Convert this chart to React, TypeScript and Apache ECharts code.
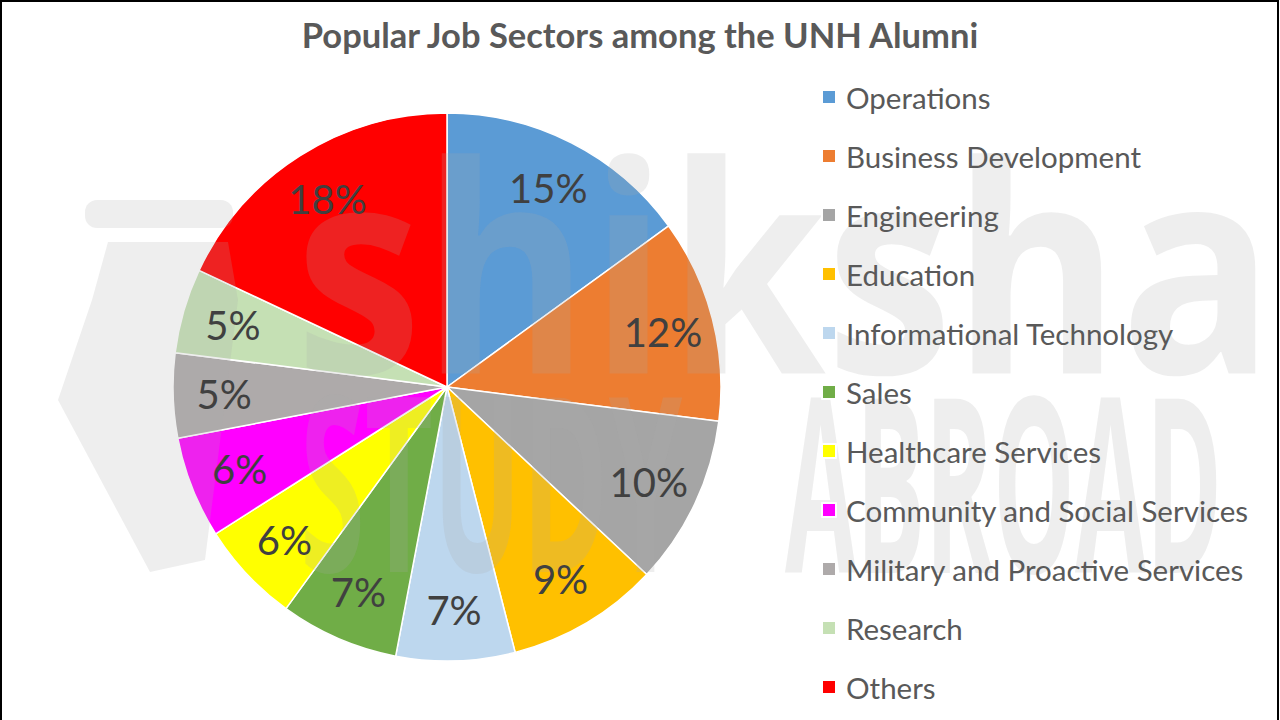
import React, { useEffect, useRef } from "react";
import * as echarts from "echarts";

const titleText = "Popular Job Sectors among the UNH Alumni";
const categories = [
  "Operations",
  "Business Development",
  "Engineering",
  "Education",
  "Informational Technology",
  "Sales",
  "Healthcare Services",
  "Community and Social Services",
  "Military and Proactive Services",
  "Research",
  "Others",
];
const values = [15, 12, 10, 9, 7, 7, 6, 6, 5, 5, 18];
const colors = [
  "#5B9BD5",
  "#ED7D31",
  "#A5A5A5",
  "#FFC000",
  "#BDD7EE",
  "#70AD47",
  "#FFFF00",
  "#FF00FF",
  "#AEAAAA",
  "#C5E0B4",
  "#FF0000",
];

export default function App() {
  const ref = useRef<HTMLDivElement>(null);
  useEffect(() => {
    document.body.style.margin = "0";
    if (!ref.current) return;
    const chart = echarts.init(ref.current, undefined, { renderer: "svg" });
    const data = categories.map((name, i) => ({
      name,
      value: values[i],
      itemStyle: { color: colors[i] },
    }));
    const labelData = categories.map((name, i) => ({ name, value: values[i] }));
    const wm = { fill: "#a8a8a8", opacity: 0.2 };
    chart.setOption({
      animation: false,
      backgroundColor: "#ffffff",
      title: {
        text: titleText,
        left: "center",
        top: 12,
        textStyle: {
          fontFamily: "Lato",
          fontWeight: "bold",
          fontSize: 34.5,
          color: "#595959",
        },
      },
      legend: {
        orient: "vertical",
        left: 821,
        top: 82,
        padding: 0,
        itemWidth: 14,
        itemHeight: 14,
        itemGap: 29,
        icon: "rect",
        selectedMode: false,
        z: 6,
        data: categories.map((name, i) => ({ name, itemStyle: { color: colors[i] } })),
        textStyle: {
          fontFamily: "Lato",
          fontSize: 29.5,
          lineHeight: 30,
          color: "#595959",
          padding: [0, 0, 0, 5],
        },
      },
      graphic: [
        {
          type: "rect",
          silent: true,
          z: 10,
          shape: { x: 1, y: 1, width: 1277, height: 740 },
          style: { fill: "none", stroke: "#000", lineWidth: 2 },
        },
        {
          type: "text",
          z: 3,
          silent: true,
          x: 295,
          y: 116,
          scaleX: 0.88,
          style: {
            text: "shiksha",
            fontFamily: "Open Sans",
            fontWeight: "bold",
            fontSize: 290,
            verticalAlign: "top",
            ...wm,
          },
        },
        {
          type: "text",
          z: 3,
          silent: true,
          x: 300,
          y: 355,
          scaleX: 0.48,
          style: {
            text: "STUDY",
            fontFamily: "Open Sans",
            fontWeight: "bold",
            fontSize: 245,
            verticalAlign: "top",
            ...wm,
          },
        },
        {
          type: "text",
          z: 3,
          silent: true,
          x: 785,
          y: 355,
          scaleX: 0.42,
          style: {
            text: "ABROAD",
            fontFamily: "Open Sans",
            fontWeight: "bold",
            fontSize: 245,
            verticalAlign: "top",
            ...wm,
          },
        },
        {
          type: "rect",
          z: 3,
          silent: true,
          shape: { x: 85, y: 200, width: 148, height: 28, r: 12 },
          style: { ...wm },
        },
        {
          type: "polygon",
          z: 3,
          silent: true,
          shape: {
            points: [
              [108, 242],
              [228, 242],
              [238, 300],
              [205, 560],
              [150, 572],
              [58, 400],
              [92, 300],
            ],
          },
          style: { ...wm },
        },
      ],
      series: [
        {
          type: "pie",
          z: 2,
          center: [447, 387],
          radius: [0, 274],
          startAngle: 90,
          clockwise: true,
          silent: true,
          label: { show: false },
          labelLine: { show: false },
          itemStyle: { borderColor: "#ffffff", borderWidth: 1.5 },
          emphasis: { disabled: true },
          data,
        },
        {
          type: "pie",
          z: 5,
          center: [447, 387],
          radius: [166, 274],
          startAngle: 90,
          clockwise: true,
          silent: true,
          itemStyle: { color: "rgba(0,0,0,0)", borderWidth: 0 },
          label: {
            show: true,
            position: "inside",
            formatter: (p: any) => p.value + "%",
            fontFamily: "Lato",
            fontSize: 40,
            color: "#404040",
          },
          labelLine: { show: false },
          emphasis: { disabled: true },
          data: labelData,
        },
      ],
    });
    return () => chart.dispose();
  }, []);
  return <div ref={ref} style={{ width: 1280, height: 720 }} />;
}
